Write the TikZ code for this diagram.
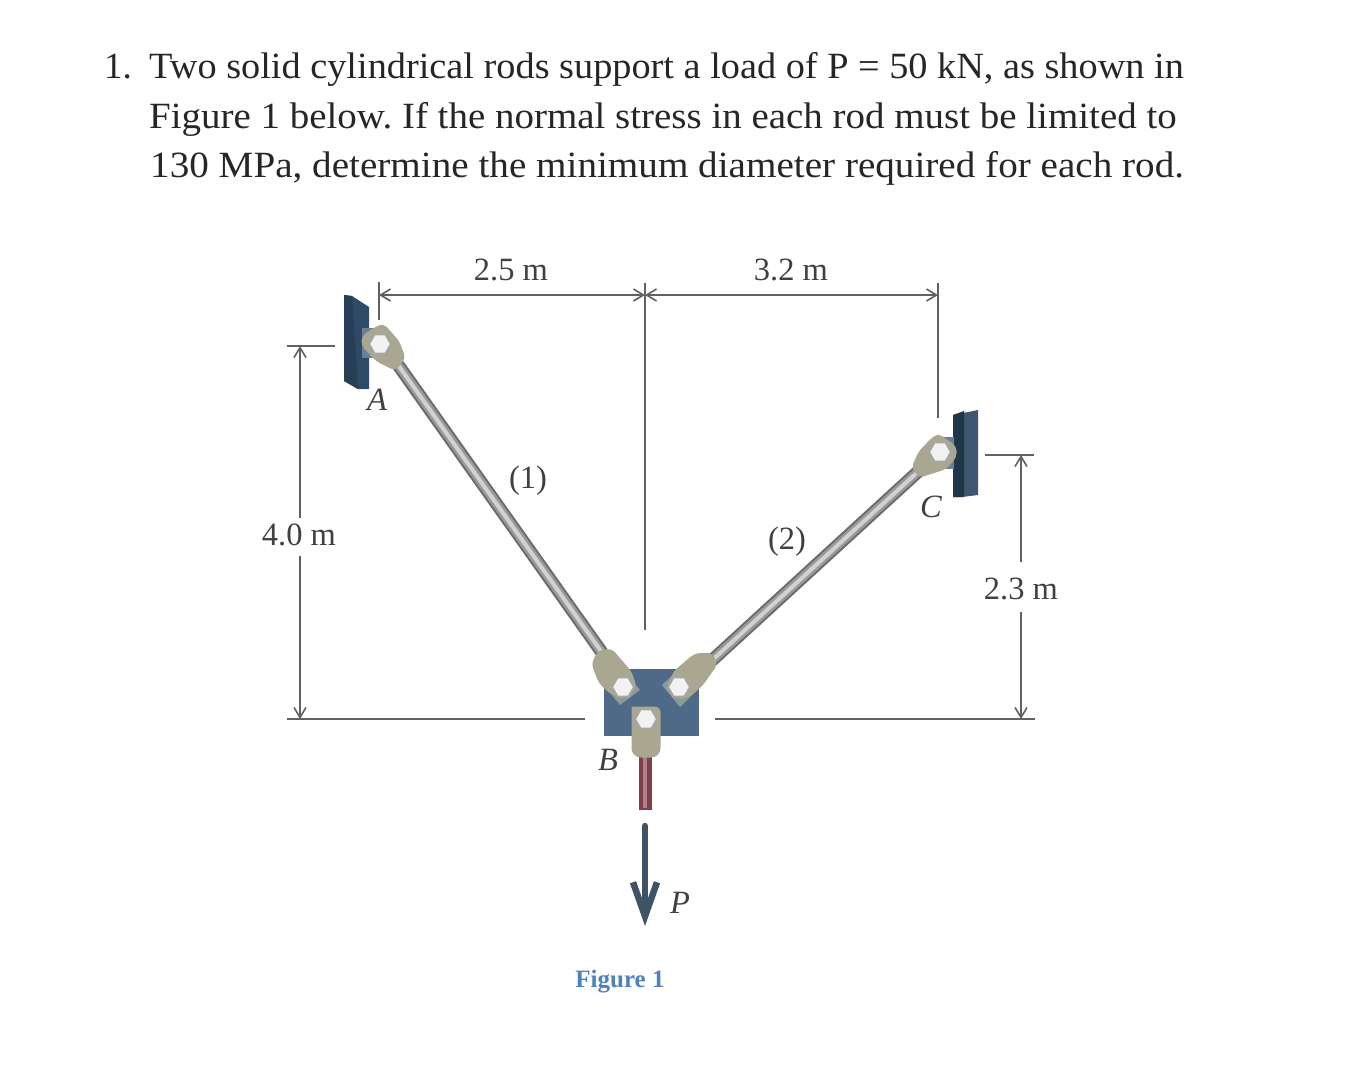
\documentclass[tikz,border=0pt]{standalone}
\usepackage{fontspec}
\setmainfont{Liberation Serif}
\usetikzlibrary{arrows.meta,shapes.geometric}
\definecolor{steelblue}{HTML}{4F6A88}
\definecolor{walldark}{HTML}{22364B}
\definecolor{wallmid}{HTML}{2F4A66}
\definecolor{walllight}{HTML}{3E566F}
\definecolor{clevis}{HTML}{A9A78F}
\definecolor{clevisplate}{HTML}{8E9A98}
\definecolor{rodred}{HTML}{7E3F4B}
\definecolor{loadblue}{HTML}{3F5366}
\definecolor{capblue}{HTML}{4F81BD}
\tikzset{
  dimtip/.tip = {Straight Barb[length=10pt,width=12pt,line width=1.6pt]},
  dimline/.style = {draw = black!62, line width = 1.9pt},
  figlabel/.style = {font = \fontsize{32.5}{32.5}\selectfont, text = black!75},
  textline/.style = {anchor = base west, inner sep = 0pt, font = \fontsize{37}{37}\selectfont\frenchspacing, text = black!85},
  bolt/.style = {regular polygon, regular polygon sides = 6, minimum size = 22pt, inner sep = 0pt, fill = white!90!gray, draw = black!35, line width = 2pt},
  clevispart/.style = {fill = clevis, draw = clevis, line width = 3pt, rounded corners = 4pt}
}
\newcommand{\rodline}[2]{
  \draw[line width = 13pt, draw = black!58] (#1) -- (#2);
  \draw[line width = 9pt, draw = black!40] (#1) -- (#2);
  \draw[line width = 4pt, draw = black!18] (#1) -- (#2);
}
\begin{document}
\begin{tikzpicture}[x = 1pt, y = -1pt]
  \useasboundingbox (0,0) rectangle (1368,1085);
  % problem text
  \node[textline] (num) at (104,78) {1.};
  \node[textline] (lineone) at (149,78) {\scalebox{1.035}[1]{Two solid cylindrical rods support a load of P = 50 kN, as shown in}};
  \node[textline] (linetwo) at (149,128) {\scalebox{1.053}[1]{Figure 1 below. If the normal stress in each rod must be limited to}};
  \node[textline] (linethree) at (150,177) {\scalebox{1.058}[1]{130 MPa, determine the minimum diameter required for each rod.}};
  % dimension points
  \coordinate (tl) at (379,282);
  \coordinate (tlb) at (379,320);
  \coordinate (tm) at (645,283);
  \coordinate (tmb) at (645,630);
  \coordinate (tr) at (938,283);
  \coordinate (trb) at (938,418);
  \coordinate (dl) at (379,295);
  \coordinate (dm) at (645,295);
  \coordinate (dr) at (938,295);
  \coordinate (lta) at (287,346);
  \coordinate (ltb) at (335,346);
  \coordinate (lba) at (287,719);
  \coordinate (lbb) at (585,719);
  \coordinate (rba) at (715,719);
  \coordinate (rbb) at (1035,719);
  \coordinate (rta) at (985,455);
  \coordinate (rtb) at (1034,455);
  \coordinate (lup) at (300,346);
  \coordinate (lupe) at (300,518);
  \coordinate (ldn) at (300,719);
  \coordinate (ldne) at (300,556);
  \coordinate (rup) at (1021,455);
  \coordinate (rupe) at (1021,562);
  \coordinate (rdn) at (1021,719);
  \coordinate (rdne) at (1021,612);
  \draw[dimline] (tl) -- (tlb);
  \draw[dimline] (tm) -- (tmb);
  \draw[dimline] (tr) -- (trb);
  \draw[dimline, dimtip-dimtip] (dl) -- (dm);
  \draw[dimline, dimtip-dimtip] (dm) -- (dr);
  \draw[dimline] (lta) -- (ltb);
  \draw[dimline] (lba) -- (lbb);
  \draw[dimline] (rba) -- (rbb);
  \draw[dimline] (rta) -- (rtb);
  \draw[dimline, -dimtip] (lupe) -- (lup);
  \draw[dimline, -dimtip] (ldne) -- (ldn);
  \draw[dimline, -dimtip] (rupe) -- (rup);
  \draw[dimline, -dimtip] (rdne) -- (rdn);
  % wall at A
  \fill[wallmid] (344,295) -- (352,296) -- (369,307) -- (369,389) -- (358,389) -- (344,381) -- cycle;
  \fill[walldark!60!wallmid] (344,295) -- (352,296) -- (358,389) -- (344,381) -- cycle;
  \fill[steelblue!85] (362,328) rectangle (384,358);
  % wall at C
  \fill[walllight] (953,415) -- (978,410) -- (978,495) -- (962,497) -- (953,497) -- cycle;
  \fill[walldark] (953,415) -- (964,411) -- (964,497) -- (953,497) -- cycle;
  \fill[steelblue!85] (944,437) rectangle (954,469);
  % block at B
  \fill[steelblue] (604,669) rectangle (699,736);
  \fill[clevisplate] (622,668) -- (640,690) -- (620,705) -- (603,684) -- cycle;
  \fill[clevisplate] (680,668) -- (700,687) -- (680,707) -- (662,685) -- cycle;
  % rods
  \coordinate (ra) at (396,362);
  \coordinate (rb) at (603,654);
  \coordinate (rc) at (708,664);
  \coordinate (rd) at (922,468);
  \rodline{ra}{rb}
  \rodline{rc}{rd}
  % clevises
  \draw[clevispart] (363,345) -- (363,337) -- (373,330) -- (383,325) -- (398,342) -- (404,358) -- (395,369) -- (377,360) -- cycle;
  \draw[clevispart] (920,452) -- (932,440) -- (938,435) -- (955,447) -- (955,457) -- (945,468) -- (920,476) -- (913,468) -- cycle;
  \draw[clevispart] (593,664) -- (599,652) -- (611,650) -- (630,672) -- (635,686) -- (624,698) -- (610,692) -- (600,682) -- cycle;
  \draw[clevispart] (675,672) -- (695,655) -- (711,654) -- (716,664) -- (702,684) -- (690,695) -- (678,698) -- (668,688) -- cycle;
  \fill[rodred] (639,755) rectangle (652,810);
  \fill[rodred!65!white] (643,757) rectangle (647,808);
  \draw[clevispart] (633,708) -- (659,708) [rounded corners = 8pt] -- (659,756) -- (633,756) [sharp corners] -- cycle;
  % bolts
  \node[bolt] (bolta) at (380,344) {};
  \node[bolt] (boltc) at (940,452) {};
  \node[bolt] (boltbl) at (623,687) {};
  \node[bolt] (boltbr) at (679,687) {};
  \node[bolt] (boltbm) at (646,719) {};
  % load
  \coordinate (ps) at (645,826);
  \coordinate (pe) at (645,926);
  \draw[draw = loadblue, line width = 6.5pt, line cap = round, -{Straight Barb[length=34pt,width=24pt,line width=6.5pt]}] (ps) -- (pe);
  % labels
  \node[figlabel] (lda) at (511,270) {2.5 m};
  \node[figlabel] (ldb) at (791,270) {3.2 m};
  \node[figlabel] (ldc) at (299,535) {4.0 m};
  \node[figlabel] (ldd) at (1021,589) {2.3 m};
  \node[figlabel] (lone) at (528,481) {(1)};
  \node[figlabel] (ltwo) at (787,542) {(2)};
  \node[figlabel] (la) at (377,400) {\itshape A};
  \node[figlabel] (lb) at (608,760) {\itshape B};
  \node[figlabel] (lc) at (931,507) {\itshape C};
  \node[figlabel] (lp) at (680,903) {\itshape P};
  \node[font = \fontsize{25}{25}\selectfont\bfseries, text = capblue] (cap) at (620,982) {Figure 1};
\end{tikzpicture}
\end{document}
